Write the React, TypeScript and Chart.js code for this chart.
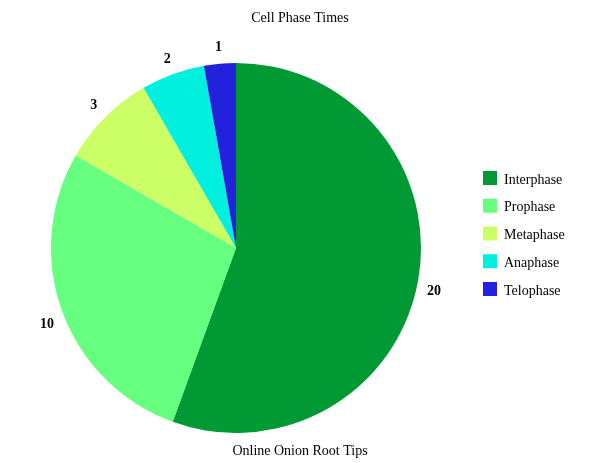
import React, { useEffect, useRef } from 'react';
import { Chart, registerables } from 'chart.js';

Chart.register(...registerables);

// values
const phases = ['Interphase', 'Prophase', 'Metaphase', 'Anaphase', 'Telophase'];
const times = [20, 10, 3, 2, 1];
const colors = ['#009933', '#66ff80', '#ccff66', '#00efdf', '#2222dd'];
const titleText = 'Cell Phase Times';
const bottomText = 'Online Onion Root Tips';

const serif = "'Liberation Serif', 'Times New Roman', serif";

// slice numbers, titles and the legend on the right
const textPlugin = {
    id: 'textPlugin',
    afterDraw(chart: any) {
        const ctx = chart.ctx;
        const meta = chart.getDatasetMeta(0);
        ctx.save();
        ctx.fillStyle = '#000';
        ctx.textAlign = 'center';
        ctx.font = `bold 14px ${serif}`;
        meta.data.forEach((arc: any, i: number) => {
            const mid = (arc.startAngle + arc.endAngle) / 2;
            const r = arc.outerRadius + 16;
            const lower = Math.sin(mid) > 0.05;
            ctx.textBaseline = lower ? 'top' : 'middle';
            ctx.fillText(String(times[i]), arc.x + Math.cos(mid) * r, arc.y + Math.sin(mid) * r + (lower ? 1 : 0));
        });

        ctx.textBaseline = 'middle';
        ctx.font = `14px ${serif}`;
        ctx.fillText(titleText, chart.width / 2, 18);
        ctx.fillText(bottomText, chart.width / 2, 451);

        // legend
        const lx = chart.chartArea.right + 11;
        const ly = 178;
        const step = 27.75;
        ctx.textAlign = 'left';
        phases.forEach((p, i) => {
            const y = ly + i * step;
            ctx.fillStyle = colors[i];
            ctx.fillRect(lx, y - 7, 14, 14);
            ctx.fillStyle = '#000';
            ctx.fillText(p, lx + 21, y + 2);
        });
        ctx.restore();
    },
};

const App = () => {
    const canvasRef = useRef<HTMLCanvasElement>(null);

    useEffect(() => {
        if (!canvasRef.current) return;
        const chart = new Chart(canvasRef.current, {
            type: 'pie',
            data: {
                labels: phases,
                datasets: [{
                    data: times,
                    backgroundColor: colors,
                    borderWidth: 0,
                }],
            },
            options: {
                animation: false,
                responsive: true,
                maintainAspectRatio: false,
                layout: { padding: { left: 0, right: 128, top: 63, bottom: 30 } },
                plugins: {
                    title: { display: false },
                    legend: { display: false },
                    tooltip: { enabled: false },
                },
            },
            plugins: [textPlugin],
        });
        return () => {
            chart.destroy();
        };
    }, []);

    return (
        <div style={{ position: 'absolute', left: 0, top: 0, width: 600, height: 463, background: '#fff' }}>
            <canvas ref={canvasRef}></canvas>
        </div>
    );
};

export default App;
